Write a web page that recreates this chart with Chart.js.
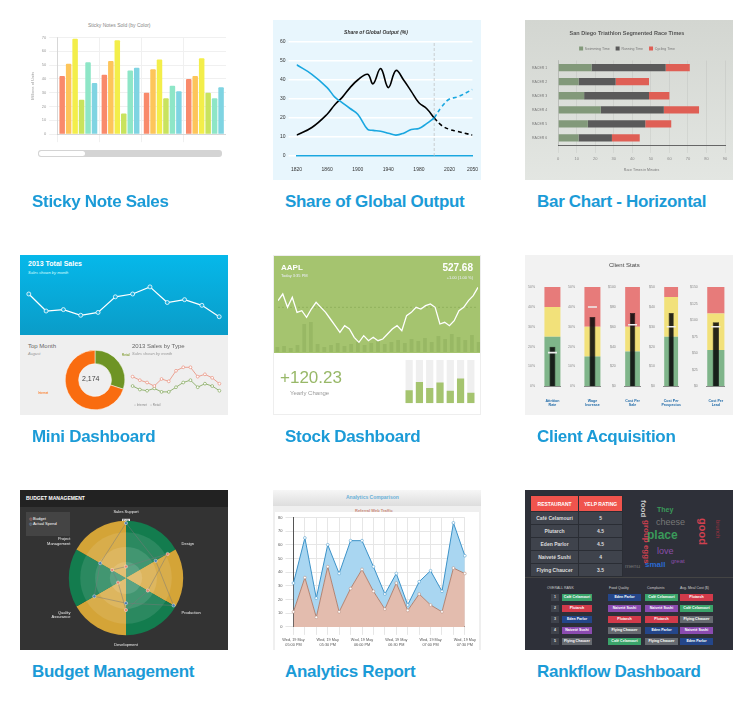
<!DOCTYPE html>
<html>
<head>
<meta charset="utf-8">
<script src="https://cdn.jsdelivr.net/npm/chart.js@4.4.1/dist/chart.umd.min.js"></script>
<style>
  body { margin: 0; background: #fff; font-family: "Liberation Sans", Arial, sans-serif; }
  .card { position: absolute; width: 208px; height: 160px; overflow: hidden; }
  .card canvas { position: absolute; }
  .title { position: absolute; font: bold 17px "Liberation Sans", Arial, sans-serif; color: #1b9bd7; letter-spacing: -0.3px; }
  .txt { position: absolute; white-space: nowrap; }
  table.rk { position: absolute; border-collapse: collapse; font: bold 5px "Liberation Sans", Arial; color: #ddd; }
  table.rk td { border: 1px solid #2a2d34; text-align: center; height: 10px; background: #3f434c; }
</style>
</head>
<body>
<!-- row 1 -->
<div class="card" style="left:20px;top:20px;background:#fff">
  <div class="txt" style="left:68px;top:2px;font-size:5px;color:#888">Sticky Notes Sold (by Color)</div>
  <canvas id="sticky" width="200" height="135" style="left:6px;top:12px"></canvas>
  <div style="position:absolute;left:18px;top:130px;width:184px;height:7px;background:#d4d4d4;border-radius:3px"></div>
  <div style="position:absolute;left:19px;top:131px;width:46px;height:5px;background:#fff;border-radius:3px"></div>
</div>
<div class="card" style="left:273px;top:20px;background:#e8f6fd">
  <canvas id="share" width="208" height="160" style="left:0;top:0"></canvas>
</div>
<div class="card" style="left:525px;top:20px;background:linear-gradient(#d3d6d1,#e3e6e2)">
  <canvas id="tri" width="208" height="160" style="left:0;top:0"></canvas>
</div>
<div class="title" style="left:32px;top:192px">Sticky Note Sales</div>
<div class="title" style="left:285px;top:192px">Share of Global Output</div>
<div class="title" style="left:537px;top:192px">Bar Chart - Horizontal</div>

<!-- row 2 -->
<div class="card" style="left:20px;top:255px;background:#efefef">
  <div style="position:absolute;left:0;top:0;width:208px;height:80px;background:linear-gradient(#06b8ea,#0a9cc8)"></div>
  <div class="txt" style="left:8px;top:5px;font:bold 7px Arial;color:#fff">2013 Total Sales</div>
  <div class="txt" style="left:8px;top:15px;font:italic 4px Arial;color:#dff">Sales shown by month</div>
  <canvas id="miniTop" width="200" height="55" style="left:4px;top:20px"></canvas>
  <div class="txt" style="left:8px;top:88px;font-size:6px;color:#666">Top Month</div>
  <div class="txt" style="left:8px;top:96px;font:italic 4px Arial;color:#999">August</div>
  <canvas id="miniDonut" width="60" height="60" style="left:45px;top:95px"></canvas>
  <div class="txt" style="left:62px;top:120px;font-size:7px;color:#444">2,174</div>
  <div class="txt" style="left:18px;top:136px;font-size:3px;color:#f60">Internet</div>
  <div class="txt" style="left:102px;top:98px;font-size:3px;color:#680">Retail</div>
  <div class="txt" style="left:112px;top:88px;font-size:6px;color:#666">2013 Sales by Type</div>
  <div class="txt" style="left:112px;top:96px;font:italic 4px Arial;color:#999">Sales shown by month</div>
  <canvas id="miniType" width="96" height="42" style="left:108px;top:103px"></canvas>
  <div class="txt" style="left:114px;top:148px;font-size:3px;color:#888">○ Internet &nbsp;&nbsp; ○ Retail</div>
</div>
<div class="card" style="left:273px;top:255px;background:#fff;border:1px solid #eee;box-sizing:border-box">
  <div style="position:absolute;left:0;top:0;width:208px;height:97px;background:#a5c46f"></div>
  <canvas id="stockBars" width="208" height="40" style="left:0;top:56px"></canvas>
  <canvas id="stockLine" width="200" height="70" style="left:4px;top:28px"></canvas>
  <div class="txt" style="left:7px;top:7px;font:bold 8px Arial;color:#fff">AAPL</div>
  <div class="txt" style="left:7px;top:17px;font-size:4px;color:#eef">Today 3:35 PM</div>
  <div class="txt" style="right:7px;top:6px;font:bold 10px Arial;color:#fff">527.68</div>
  <div class="txt" style="right:7px;top:19px;font-size:4px;color:#eef">+1.00 (1.00 %)</div>
  <div class="txt" style="left:6px;top:112px;font-size:17px;color:#98b868">+120.23</div>
  <div class="txt" style="left:16px;top:134px;font-size:6px;color:#999">Yearly Change</div>
  <canvas id="stockMonths" width="72" height="62" style="left:130px;top:104px"></canvas>
</div>
<div class="card" style="left:525px;top:255px;background:#f2f2f2">
  <div class="txt" style="left:84px;top:7px;font-size:6px;color:#444">Client Stats</div>
  <canvas id="cs0" width="40" height="130" style="left:2px;top:26px"></canvas>
  <canvas id="cs1" width="40" height="130" style="left:42px;top:26px"></canvas>
  <canvas id="cs2" width="40" height="130" style="left:82px;top:26px"></canvas>
  <canvas id="cs3" width="40" height="130" style="left:123px;top:26px"></canvas>
  <canvas id="cs4" width="42" height="130" style="left:164px;top:26px"></canvas>
</div>
<div class="title" style="left:32px;top:427px">Mini Dashboard</div>
<div class="title" style="left:285px;top:427px">Stock Dashboard</div>
<div class="title" style="left:537px;top:427px">Client Acquisition</div>

<!-- row 3 -->
<div class="card" style="left:20px;top:490px;background:#333">
  <div style="position:absolute;left:0;top:0;width:208px;height:17px;background:#222"></div>
  <div class="txt" style="left:6px;top:5px;font:bold 5px Arial;color:#fff">BUDGET MANAGEMENT</div>
  <div style="position:absolute;left:6px;top:22px;width:44px;height:24px;background:#444"></div>
  <div class="txt" style="left:9px;top:26px;font-size:4px;color:#fff"><span style="color:#e98">◎</span> Budget<br><span style="color:#9bd">◎</span> Actual Spend</div>
  <canvas id="budget" width="208" height="143" style="left:0;top:17px"></canvas>
</div>
<div class="card" style="left:273px;top:490px;background:#efefef">
  <div style="position:absolute;left:0;top:0;width:208px;height:16px;background:linear-gradient(#f6f6f6,#ddd)"></div>
  <div class="txt" style="left:73px;top:4px;font:bold 5px Arial;color:#6ab0d8">Analytics Comparison</div>
  <div class="txt" style="left:82px;top:18px;font:bold 4px Arial;color:#c98a78">Referral Web Traffic</div>
  <canvas id="analytics" width="204" height="138" style="left:2px;top:22px"></canvas>
</div>
<div class="card" style="left:525px;top:490px;background:#2e3039">
  <table class="rk" style="left:5px;top:5px;width:93px">
    <tr><td style="background:#f0544d;color:#fff;height:13px">RESTAURANT</td><td style="background:#f0544d;color:#fff">YELP RATING</td></tr>
    <tr><td>Café Celamouri</td><td>5</td></tr>
    <tr><td>Plutarch</td><td>4.5</td></tr>
    <tr><td>Eden Parlor</td><td>4.5</td></tr>
    <tr><td>Naiveté Sushi</td><td>4</td></tr>
    <tr><td>Flying Chaucer</td><td>3.5</td></tr>
  </table>
  <div class="txt" style="top:10px;font:bold 8px Arial;color:#ccc;transform:rotate(90deg);transform-origin:left top;left:123px">food</div>
  <div class="txt" style="left:132px;top:16px;font:bold 7px Arial;color:#3a9a5a">They</div>
  <div class="txt" style="left:131px;top:27px;font:9px Arial;color:#777">cheese</div>
  <div class="txt" style="left:122px;top:38px;font:bold 12px Arial;color:#3a9a5a">place</div>
  <div class="txt" style="left:132px;top:56px;font:9px Arial;color:#8a4ea8">love</div>
  <div class="txt" style="left:120px;top:70px;font:bold 8px Arial;color:#2a6ad0">small</div>
  <div class="txt" style="left:146px;top:68px;font:6px Arial;color:#8a4ea8">great</div>
  <div class="txt" style="left:100px;top:73px;font:6px Arial;color:#777">menu</div>
  <div class="txt" style="top:30px;font:bold 8px Arial;color:#d04050;transform:rotate(90deg);transform-origin:left top;left:126px">group eggs</div>
  <div class="txt" style="top:28px;font:bold 11px Arial;color:#d04050;transform:rotate(90deg);transform-origin:left top;left:184px">good</div>
  <div class="txt" style="top:30px;font:6px Arial;color:#a03040;transform:rotate(90deg);transform-origin:left top;left:196px">brunch</div>
  <div style="position:absolute;left:0;top:87px;width:208px;height:1px;background:#444"></div>
  <div class="txt" style="left:22px;top:96px;font-size:3.5px;color:#ccc">OVERALL RANK</div>
  <div class="txt" style="left:84px;top:96px;font-size:3.5px;color:#ccc">Food Quality</div>
  <div class="txt" style="left:122px;top:96px;font-size:3.5px;color:#ccc">Complaints</div>
  <div class="txt" style="left:155px;top:96px;font-size:3.5px;color:#ccc">Avg. Meal Cost ($)</div>
  <div id="rankflow"></div>
</div>
<div class="title" style="left:32px;top:662px">Budget Management</div>
<div class="title" style="left:285px;top:662px">Analytics Report</div>
<div class="title" style="left:537px;top:662px">Rankflow Dashboard</div>

<script>
// ---- data ----
const stickyMonths = ["Jan '14", "Feb '14", "May '14", "Apr '14"];
const stickyColors = ['#f98a6b', '#fdc55a', '#f3ee4a', '#c9e35d', '#8ee6c7', '#7fd4e2'];
const stickyValues = [
  [42, 43, 30, 40],
  [51, 53, 47, 42],
  [69, 68, 54, 55],
  [25, 15, 26, 30],
  [52, 46, 35, 26],
  [37, 48, 31, 34]
];

const shareYearsA = [1820, 1840, 1860, 1870, 1880, 1890, 1900, 1913, 1920, 1930, 1940, 1950, 1960, 1970, 1980, 1990, 2000];
const shareBlue = [48, 43, 36, 31, 28, 25, 22, 14, 13.5, 13, 12, 11, 12, 14, 14.5, 17, 20];
const shareBlack = [11, 15, 22, 27, 31, 36, 40, 43, 38, 46, 36, 45, 40, 34, 28, 25, 20];
const shareYearsF = [2000, 2010, 2020, 2030, 2050];
const shareBlueF = [20, 26, 30, 31, 35];
const shareBlackF = [20, 16, 14, 13, 11];
const shareTicks = [1820, 1860, 1900, 1940, 1980, 2020, 2050];

const racers = ['RACER 1', 'RACER 2', 'RACER 3', 'RACER 4', 'RACER 5', 'RACER 6'];
const swimTime = [18, 11, 14, 23, 16, 11];
const runTime = [40, 20, 35, 34, 31, 18];
const cycleTime = [13, 18, 11, 19, 14, 15];

const totalSales = [50, 38, 39, 35, 37, 48, 50, 55, 44, 46, 42, 34];
const topMonth = [30, 70]; // retail, internet
const salesInternet = [30, 27, 25, 22, 28, 26, 35, 38, 38, 30, 32, 29, 24];
const salesRetail = [22, 19, 18, 20, 17, 17, 21, 25, 27, 21, 24, 22, 18];

const stockPrice = [62, 66, 58, 64, 55, 56, 52, 57, 61, 58, 55, 51, 47, 43, 47, 45, 40, 37, 41, 38, 40, 38, 39, 42, 45, 47, 44, 53, 55, 58, 57, 59, 60, 58, 48, 49, 47, 50, 56, 58, 62, 65, 70];
const stockVolume = [5, 6, 4, 7, 28, 30, 8, 5, 7, 9, 6, 8, 10, 7, 9, 11, 8, 10, 12, 9, 13, 11, 14, 10, 16, 13, 18, 15, 12, 17, 10];
const yearMonths = ['J', 'F', 'M', 'A', 'M', 'J', 'J'];
const yearChange = [30, 49, 35, 48, 29, 57, 24];

const clientStats = [
  { name: ['Attrition', 'Rate'], ticks: ['0%', '10%', '20%', '30%', '40%', '50%'], max: 50, bands: [25, 15, 10], actual: 20, target: 17 },
  { name: ['Wage', 'Increase'], ticks: ['0%', '10%', '20%', '30%', '40%', '50%'], max: 50, bands: [15, 15, 20], actual: 35, target: 40 },
  { name: ['Cost Per', 'Sale'], ticks: ['$0', '$20', '$40', '$60', '$80', '$100'], max: 100, bands: [35, 25, 40], actual: 74, target: 62 },
  { name: ['Cost Per', 'Prospectus'], ticks: ['$0', '$10', '$20', '$30', '$40', '$50'], max: 50, bands: [25, 20, 5], actual: 37, target: 30 },
  { name: ['Cost Per', 'Lead'], ticks: ['$0', '$25', '$50', '$75', '$100', '$125', '$150'], max: 150, bands: [55, 55, 40], actual: 97, target: 90 }
];

const budgetAxes = ['Sales Support', 'Design', 'Production', 'Development', ['Quality', 'Assurance'], ['Project', 'Management']];
const budgetPlan = [10, 42, 22, 28, 8, 14];
const actualSpend = [48, 30, 48, 22, 32, 26];

const trafficTimes = ['Wed, 19 May|05:00 PM', '', '', 'Wed, 19 May|05:30 PM', '', '', 'Wed, 19 May|06:00 PM', '', '', 'Wed, 19 May|06:30 PM', '', '', 'Wed, 19 May|07:00 PM', '', '', 'Wed, 19 May|07:30 PM'];
const trafficBlue = [32, 65, 21, 60, 39, 63, 63, 44, 24, 39, 16, 33, 41, 26, 76, 52];
const trafficBrown = [11, 36, 7, 44, 11, 28, 42, 26, 13, 32, 12, 24, 16, 11, 43, 39];

const rankColors = { 'Café Celamouri': '#3aa36a', 'Plutarch': '#d23a4a', 'Eden Parlor': '#24468a', 'Naiveté Sushi': '#8b4bb0', 'Flying Chaucer': '#666a70' };
const rankColumns = [
  ['Café Celamouri', 'Plutarch', 'Eden Parlor', 'Naiveté Sushi', 'Flying Chaucer'],
  ['Eden Parlor', 'Naiveté Sushi', 'Plutarch', 'Flying Chaucer', 'Café Celamouri'],
  ['Café Celamouri', 'Naiveté Sushi', 'Plutarch', 'Eden Parlor', 'Flying Chaucer'],
  ['Plutarch', 'Café Celamouri', 'Flying Chaucer', 'Naiveté Sushi', 'Eden Parlor']
];

// ---- helpers ----
Chart.defaults.animation = false;
Chart.defaults.responsive = false;
Chart.defaults.font.family = '"Liberation Sans", Arial, sans-serif';
Chart.defaults.font.size = 4;
Chart.defaults.plugins.legend.display = false;
Chart.defaults.plugins.tooltip.enabled = false;

function mk(id, cfg) {
  return new Chart(document.getElementById(id), cfg);
}
const noAxis = { display: false };

// sticky notes
mk('sticky', {
  type: 'bar',
  data: {
    labels: stickyMonths,
    datasets: stickyValues.map((v, i) => ({ data: v, backgroundColor: stickyColors[i], barPercentage: 0.85, categoryPercentage: 0.92, borderRadius: 1 }))
  },
  options: {
    scales: {
      x: { grid: { color: '#f0f0f0' }, ticks: { color: '#999', padding: 10 } },
      y: { min: 0, max: 70, ticks: { stepSize: 10, color: '#999' }, grid: { color: '#f0f0f0' },
           title: { display: true, text: 'Millions of Units', color: '#999', font: { size: 4 } } }
    }
  }
});

// share of global output
const xy = (xs, ys) => xs.map((x, i) => ({ x: x, y: ys[i] }));
mk('share', {
  type: 'line',
  data: {
    datasets: [
      { data: xy(shareYearsA, shareBlue), borderColor: '#1aa7e0', borderWidth: 1.6, pointRadius: 0, tension: 0.4 },
      { data: xy(shareYearsA, shareBlack), borderColor: '#000', borderWidth: 1.6, pointRadius: 0, tension: 0.4 },
      { data: xy(shareYearsF, shareBlueF), borderColor: '#1aa7e0', borderWidth: 1.6, borderDash: [4, 3], pointRadius: 0, tension: 0.4 },
      { data: xy(shareYearsF, shareBlackF), borderColor: '#000', borderWidth: 1.6, borderDash: [4, 3], pointRadius: 0, tension: 0.4 },
      { data: [{ x: 2000, y: 0 }, { x: 2000, y: 60 }], borderColor: '#bbb', borderWidth: 0.7, borderDash: [3, 2], pointRadius: 0 }
    ]
  },
  options: {
    layout: { padding: { left: 4, right: 6, top: 4, bottom: 4 } },
    plugins: { title: { display: true, text: 'Share of Global Output (%)', font: { size: 5, style: 'italic' }, color: '#333', padding: 6 } },
    scales: {
      x: { type: 'linear', min: 1820, max: 2050, afterBuildTicks: a => { a.ticks = shareTicks.map(v => ({ value: v })); },
           grid: { display: false }, border: { color: '#1aa7e0', width: 1.5 },
           ticks: { color: '#333', font: { size: 5 }, callback: v => String(v) } },
      y: { min: 0, max: 60, ticks: { stepSize: 10, color: '#333', font: { size: 5 } }, grid: { color: '#fff', lineWidth: 1.5 }, border: { display: false } }
    }
  }
});

// triathlon
mk('tri', {
  type: 'bar',
  data: {
    labels: racers,
    datasets: [
      { label: 'Swimming Time', data: swimTime, backgroundColor: '#82997a', barPercentage: 0.65 },
      { label: 'Running Time', data: runTime, backgroundColor: '#5a5a5a', barPercentage: 0.65 },
      { label: 'Cycling Time', data: cycleTime, backgroundColor: '#df5f55', barPercentage: 0.65 }
    ]
  },
  options: {
    indexAxis: 'y',
    layout: { padding: { left: 4, right: 8, top: 6, bottom: 4 } },
    plugins: {
      title: { display: true, text: 'San Diego Triathlon Segmented Race Times', font: { size: 5.5 }, color: '#555', padding: 4 },
      legend: { display: true, labels: { boxWidth: 4, boxHeight: 4, font: { size: 3.5 }, color: '#777', padding: 6 } }
    },
    scales: {
      x: { stacked: true, min: 0, max: 90, ticks: { stepSize: 10, color: '#888' }, grid: { color: 'rgba(0,0,0,0.05)' }, border: { color: '#666', width: 1 },
           title: { display: true, text: 'Race Times in Minutes', color: '#777', font: { size: 3.5 } } },
      y: { stacked: true, grid: { display: false }, ticks: { color: '#777', font: { size: 3.5 } } }
    }
  }
});

// mini dashboard
mk('miniTop', {
  type: 'line',
  data: { labels: totalSales.map((_, i) => i), datasets: [{ data: totalSales, borderColor: '#fff', borderWidth: 1.2, pointRadius: 2, pointBackgroundColor: '#1ab0e0', pointBorderColor: '#fff', pointBorderWidth: 0.8 }] },
  options: { layout: { padding: 4 }, scales: { x: noAxis, y: { display: false, min: 28, max: 60 } } }
});
mk('miniDonut', {
  type: 'doughnut',
  data: { datasets: [{ data: topMonth, backgroundColor: ['#6e9424', '#f96c10'], borderWidth: 0.5, borderColor: '#fff' }] },
  options: { cutout: '55%' }
});
mk('miniType', {
  type: 'line',
  data: {
    labels: salesInternet.map((_, i) => i),
    datasets: [
      { data: salesInternet, borderColor: '#e8806a', borderWidth: 0.7, pointRadius: 1.4, pointBackgroundColor: '#fff', pointBorderColor: '#e8806a', pointBorderWidth: 0.6 },
      { data: salesRetail, borderColor: '#6e9a40', borderWidth: 0.7, pointRadius: 1.4, pointBackgroundColor: '#fff', pointBorderColor: '#6e9a40', pointBorderWidth: 0.6 }
    ]
  },
  options: { layout: { padding: 3 }, scales: { x: noAxis, y: { display: false, min: 14, max: 42 } } }
});

// stock dashboard
mk('stockBars', {
  type: 'bar',
  data: { labels: stockVolume.map((_, i) => i), datasets: [{ data: stockVolume, backgroundColor: 'rgba(80,120,40,0.15)', barPercentage: 0.7 }] },
  options: { scales: { x: noAxis, y: { display: false, min: 0, max: 40 } } }
});
mk('stockLine', {
  type: 'line',
  data: {
    labels: stockPrice.map((_, i) => i),
    datasets: [
      { data: stockPrice, borderColor: '#fff', borderWidth: 1.3, pointRadius: 0 },
      { data: stockPrice.map(() => 58), borderColor: 'rgba(70,110,30,0.35)', borderWidth: 0.6, borderDash: [2, 2], pointRadius: 0 }
    ]
  },
  options: { scales: { x: noAxis, y: { display: false, min: 30, max: 72 } } }
});
mk('stockMonths', {
  type: 'bar',
  data: {
    labels: yearMonths,
    datasets: [
      { data: yearChange, backgroundColor: '#a5c46f', barPercentage: 0.7, categoryPercentage: 1, grouped: false, order: 0 },
      { data: yearChange.map(() => 100), backgroundColor: '#efefef', barPercentage: 0.7, categoryPercentage: 1, grouped: false, order: 1 }
    ]
  },
  options: {
    scales: {
      x: { grid: { display: false }, border: { display: false }, ticks: { color: '#999', font: { size: 4 }, padding: 3 } },
      y: { display: false, min: 0, max: 100 }
    }
  }
});

// client acquisition
clientStats.forEach((c, i) => {
  const band = (v, col) => ({ data: [v], backgroundColor: col, stack: 'b', barPercentage: 1, categoryPercentage: 0.95, order: 2 });
  mk('cs' + i, {
    type: 'bar',
    data: {
      labels: [c.name],
      datasets: [
        band(c.bands[0], '#7fb58a'),
        band(c.bands[1], '#f2e17a'),
        band(c.bands[2], '#e77b7a'),
        { data: [c.actual], backgroundColor: 'rgba(10,10,10,0.88)', borderColor: '#111', borderWidth: 0.6, grouped: false, barPercentage: 0.35, categoryPercentage: 1, order: 1 },
        { type: 'scatter', data: [{ x: c.name, y: c.target }], pointStyle: 'line', pointRadius: 4.5, pointBorderColor: '#eee', pointBorderWidth: 1.6, order: 0 }
      ]
    },
    options: {
      layout: { padding: { top: 4, right: 2 } },
      datasets: { bar: { grouped: false } },
      scales: {
        x: { type: 'category', grid: { display: false }, border: { color: '#888' }, ticks: { color: '#1f6aa8', font: { size: 3.6, weight: 'bold' }, padding: 4 } },
        y: { stacked: true, min: 0, max: c.max, grid: { display: false }, border: { display: false },
             afterBuildTicks: a => { a.ticks = c.ticks.map((t, k) => ({ value: c.max * k / (c.ticks.length - 1) })); },
             ticks: { color: '#888', font: { size: 3.5 }, padding: 1, callback: (v, k) => c.ticks[k] } }
      }
    }
  });
});

// budget management: alternating sectors drawn from the radial scale
const sectorPlugin = {
  id: 'sectors',
  beforeDatasetsDraw(chart) {
    const r = chart.scales.r, ctx = chart.ctx;
    const n = chart.data.labels.length;
    const step = 2 * Math.PI / n;
    const rings = [[50, 1], [40, 0.8], [27, 0.6], [14, 0.4]];
    ctx.save();
    rings.forEach(([val, light]) => {
      const rad = r.getDistanceFromCenterForValue(val);
      for (let k = 0; k < n; k++) {
        const a0 = -Math.PI / 2 + k * step;
        const green = k % 2 === 0;
        const base = green ? [19, 124, 78] : [212, 164, 55];
        const mix = base.map(c => Math.round(c + (255 - c) * (1 - light) * 0.5));
        ctx.beginPath();
        ctx.moveTo(r.xCenter, r.yCenter);
        ctx.arc(r.xCenter, r.yCenter, rad, a0, a0 + step, false);
        ctx.closePath();
        ctx.fillStyle = `rgb(${mix.join(',')})`;
        ctx.fill();
      }
    });
    ctx.restore();
  }
};
mk('budget', {
  type: 'radar',
  plugins: [sectorPlugin],
  data: {
    labels: budgetAxes,
    datasets: [
      { data: budgetPlan, borderColor: 'rgba(120,120,120,0.8)', borderWidth: 0.6, backgroundColor: 'transparent', pointRadius: 1.6, pointBackgroundColor: '#e4866e', pointBorderColor: '#fff', pointBorderWidth: 0.4 },
      { data: actualSpend, borderColor: 'rgba(120,120,120,0.8)', borderWidth: 0.6, backgroundColor: 'transparent', pointRadius: 1.6, pointBackgroundColor: '#4b7fb0', pointBorderColor: '#fff', pointBorderWidth: 0.4 }
    ]
  },
  options: {
    layout: { padding: { left: 20, right: 20, top: 2, bottom: 2 } },
    scales: {
      r: {
        min: 0, max: 50,
        grid: { circular: true, color: 'rgba(0,0,0,0)' },
        angleLines: { color: '#fff', lineWidth: ctx => ctx.index === 0 ? 1.2 : 0 },
        pointLabels: { color: '#eee', font: { size: 4 } },
        ticks: { stepSize: 10, color: '#333', backdropColor: '#fff', backdropPadding: 0.5, font: { size: 3 }, callback: v => '$' + v + 'K' }
      }
    }
  }
});

// analytics report
mk('analytics', {
  type: 'line',
  data: {
    labels: trafficTimes.map(t => t.split('|')),
    datasets: [
      { data: trafficBrown, borderColor: '#b08474', borderWidth: 1, backgroundColor: '#e3bcae', fill: 'origin', pointRadius: 1.4, pointBackgroundColor: '#fff', pointBorderColor: '#b08474', pointBorderWidth: 0.5 },
      { data: trafficBlue, borderColor: '#3c92c8', borderWidth: 1, backgroundColor: '#a9d6f1', fill: '-1', pointRadius: 1.4, pointBackgroundColor: '#fff', pointBorderColor: '#3c92c8', pointBorderWidth: 0.5 }
    ]
  },
  options: {
    layout: { padding: { left: 0, right: 8, top: 4 } },
    scales: {
      x: { grid: { color: '#e6e6e6' }, border: { color: '#555' }, ticks: { color: '#555', font: { size: 3.8 }, maxRotation: 0, autoSkip: false } },
      y: { min: 0, max: 80, ticks: { stepSize: 10, color: '#555' }, grid: { color: '#e6e6e6' }, border: { color: '#555' } }
    },
    plugins: { filler: { propagate: false } }
  }
});
document.querySelector('#analytics').style.background = '#fff';

// rankflow boxes
const rf = document.getElementById('rankflow');
const colX = [37, 83, 120, 155];
rankColumns.forEach((col, ci) => {
  col.forEach((name, ri) => {
    const d = document.createElement('div');
    d.className = 'txt';
    d.style.cssText = `left:${colX[ci]}px;top:${104 + ri * 11}px;width:${ci === 0 ? 30 : 33}px;height:7px;background:${rankColors[name]};color:#fff;font:bold 3.6px Arial;text-align:center;line-height:7px`;
    d.textContent = name;
    rf.appendChild(d);
  });
});
for (let r = 0; r < 5; r++) {
  const n = document.createElement('div');
  n.className = 'txt';
  n.style.cssText = `left:26px;top:${104 + r * 11}px;width:8px;height:7px;background:#3f434c;color:#ddd;font:bold 3.6px Arial;text-align:center;line-height:7px`;
  n.textContent = r + 1;
  rf.appendChild(n);
}
</script>
</body>
</html>
